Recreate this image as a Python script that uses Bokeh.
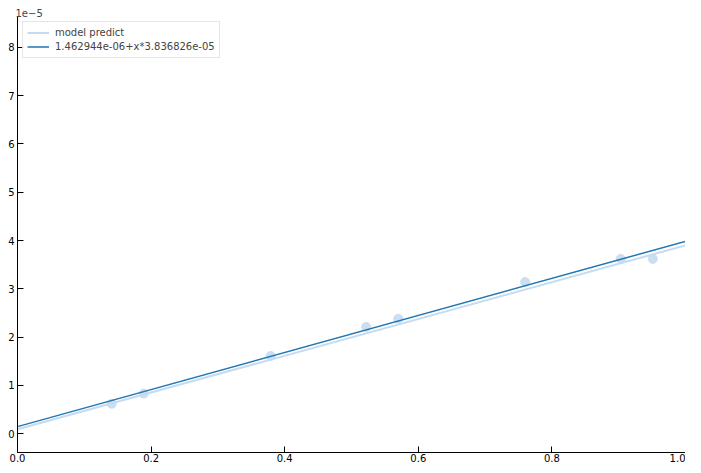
from bokeh.plotting import figure
from bokeh.models import FixedTicker, CustomJSTickFormatter, Range1d, Legend, LegendItem
from bokeh.embed import file_html
from bokeh.resources import INLINE

# data
point_x = [0.141, 0.189, 0.379, 0.522, 0.570, 0.760, 0.903, 0.951]
point_y = [0.62e-5, 0.83e-5, 1.61e-5, 2.21e-5, 2.38e-5, 3.14e-5, 3.62e-5, 3.62e-5]
model_x = [0.0, 1.0]
model_y = [0.09e-5, 3.90e-5]
fit_intercept = 1.462944e-06
fit_slope = 3.836826e-05
fit_x = [0.0, 1.0]
fit_y = [fit_intercept + fit_slope * v for v in fit_x]
fit_label = "1.462944e-06+x*3.836826e-05"
x_ticks = [0.0, 0.2, 0.4, 0.6, 0.8, 1.0]
y_tick_units = [0, 1, 2, 3, 4, 5, 6, 7, 8]
y_scale = 1e-5

FONT = "DejaVu Sans"

p = figure(width=685, height=464, output_backend="svg", toolbar_location=None,
           x_range=Range1d(0.0, 1.0), y_range=Range1d(-0.39e-5, 8.64e-5),
           min_border_left=17, min_border_right=0, min_border_top=16, min_border_bottom=0)

p.title.text = "1e\u22125"
p.title.align = "left"
p.title.text_font = FONT
p.title.text_font_size = "10px"
p.title.text_font_style = "normal"
p.title.standoff = 0
p.title.offset = -2

p.outline_line_color = None
p.grid.visible = False
p.background_fill_color = "white"

for ax in (p.xaxis[0], p.yaxis[0]):
    ax.major_tick_in = 6
    ax.major_tick_out = 0
    ax.minor_tick_in = 0
    ax.minor_tick_out = 0
    ax.axis_line_color = "black"
    ax.major_tick_line_color = "black"
    ax.major_label_text_font = FONT
    ax.major_label_text_font_size = "10px"
    ax.major_label_text_color = "black"
    ax.major_label_standoff = 3
p.xaxis[0].major_label_standoff = 1

p.xaxis.ticker = FixedTicker(ticks=x_ticks)
p.xaxis.formatter = CustomJSTickFormatter(code="return tick.toFixed(1);")
p.yaxis.ticker = FixedTicker(ticks=[t * y_scale for t in y_tick_units])
p.yaxis.formatter = CustomJSTickFormatter(code="return (tick*1e5).toFixed(0);")

p.scatter(point_x, point_y, size=9, color="#c6dbef", alpha=0.9)
r_model = p.line(model_x, model_y, line_color="#c6dbef", line_width=2)
r_fit = p.line(fit_x, fit_y, line_color="#1f77b4", line_width=1.5)

legend = Legend(items=[LegendItem(label="model predict", renderers=[r_model]),
                       LegendItem(label=fit_label, renderers=[r_fit])],
                location="top_left")
legend.label_text_font = FONT
legend.label_text_font_size = "10px"
legend.border_line_color = "#cccccc"
legend.border_line_width = 1
legend.margin = 5
legend.padding = 4
legend.spacing = 1
legend.label_height = 13
legend.glyph_height = 13
legend.glyph_width = 22
legend.label_standoff = 6
legend.background_fill_alpha = 0.8
p.add_layout(legend)

open("out.html", "w").write(file_html(p, INLINE))
